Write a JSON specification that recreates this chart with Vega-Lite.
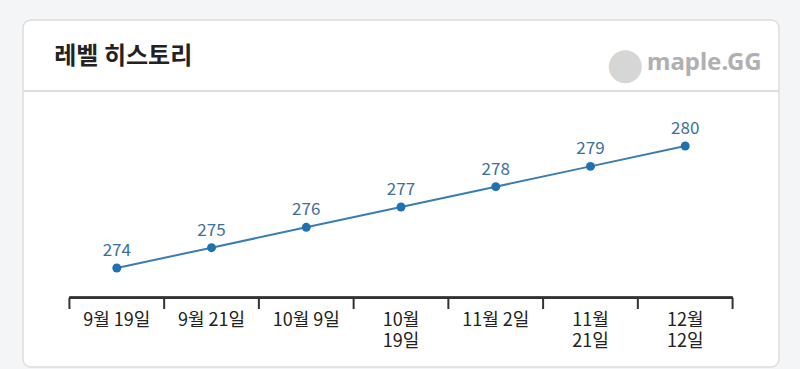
{
  "$schema": "https://vega.github.io/schema/vega-lite/v6.json",
  "width": 756,
  "height": 347,
  "autosize": "none",
  "padding": {"left": 23, "top": 20, "right": 21, "bottom": 2},
  "background": "#f4f5f7",
  "config": {
    "font": "Noto Sans CJK KR",
    "view": {"fill": "white", "stroke": "#dddddd", "strokeWidth": 1.5, "cornerRadius": 8}
  },
  "datasets": {
    "levels": [
      {"day": "9월 19일", "label": "9월 19일", "level": 274},
      {"day": "9월 21일", "label": "9월 21일", "level": 275},
      {"day": "10월 9일", "label": "10월 9일", "level": 276},
      {"day": "10월 19일", "label": "10월\n19일", "level": 277},
      {"day": "11월 2일", "label": "11월 2일", "level": 278},
      {"day": "11월 21일", "label": "11월\n21일", "level": 279},
      {"day": "12월 12일", "label": "12월\n12일", "level": 280}
    ],
    "header": [
      {"title": "레벨 히스토리", "logo": "maple.GG", "icon": "●"}
    ]
  },
  "data": {"name": "levels"},
  "layer": [
    {
      "mark": {"type": "line", "color": "#3a7db0", "strokeWidth": 2},
      "encoding": {
        "x": {
          "field": "day",
          "type": "nominal",
          "sort": ["9월 19일", "9월 21일", "10월 9일", "10월 19일", "11월 2일", "11월 21일", "12월 12일"],
          "scale": {"type": "point", "padding": 0.99},
          "axis": null
        },
        "y": {"field": "level", "type": "quantitative", "scale": {"domain": [269.13, 286.2], "zero": false, "nice": false}, "axis": null}
      }
    },
    {
      "mark": {"type": "rule", "color": "#dddddd", "strokeWidth": 1.5},
      "encoding": {"y": {"datum": 282.71}}
    },
    {
      "mark": {"type": "rule", "color": "#333333", "strokeWidth": 2, "xOffset": -47.37, "x2Offset": 47.37},
      "encoding": {
        "x": {"datum": "9월 19일"},
        "x2": {"datum": "12월 12일"},
        "y": {"datum": 272.539}
      }
    },
    {
      "mark": {"type": "rule", "color": "#333333", "strokeWidth": 2, "xOffset": -47.37},
      "encoding": {
        "x": {"field": "day", "type": "nominal", "sort": ["9월 19일", "9월 21일", "10월 9일", "10월 19일", "11월 2일", "11월 21일", "12월 12일"]},
        "y": {"datum": 272.539},
        "y2": {"datum": 271.983}
      }
    },
    {
      "transform": [{"filter": {"field": "day", "equal": "12월 12일"}}],
      "mark": {"type": "rule", "color": "#333333", "strokeWidth": 2, "xOffset": 47.37},
      "encoding": {
        "x": {"field": "day", "type": "nominal", "sort": ["9월 19일", "9월 21일", "10월 9일", "10월 19일", "11월 2일", "11월 21일", "12월 12일"]},
        "y": {"datum": 272.539},
        "y2": {"datum": 271.983}
      }
    },
    {
      "mark": {"type": "text", "baseline": "top", "align": "center", "fontSize": 18, "color": "#222222", "lineBreak": "\n", "lineHeight": 21},
      "encoding": {
        "x": {"field": "day", "type": "nominal", "sort": ["9월 19일", "9월 21일", "10월 9일", "10월 19일", "11월 2일", "11월 21일", "12월 12일"]},
        "y": {"datum": 271.86},
        "text": {"field": "label", "type": "nominal"}
      }
    },
    {
      "mark": {"type": "point", "filled": true, "color": "#1f72b0", "size": 80, "opacity": 1},
      "encoding": {
        "x": {"field": "day", "type": "nominal", "sort": ["9월 19일", "9월 21일", "10월 9일", "10월 19일", "11월 2일", "11월 21일", "12월 12일"]},
        "y": {"field": "level", "type": "quantitative"}
      }
    },
    {
      "mark": {"type": "text", "dy": -17, "fontSize": 17, "color": "#3d7098"},
      "encoding": {
        "x": {"field": "day", "type": "nominal", "sort": ["9월 19일", "9월 21일", "10월 9일", "10월 19일", "11월 2일", "11월 21일", "12월 12일"]},
        "y": {"field": "level", "type": "quantitative"},
        "text": {"field": "level", "type": "quantitative"}
      }
    },
    {
      "data": {"name": "header"},
      "mark": {"type": "text", "align": "left", "baseline": "alphabetic", "dx": -62.5, "fontSize": 24, "fontWeight": "bold", "color": "#222222"},
      "encoding": {
        "x": {"datum": "9월 19일"},
        "y": {"datum": 284.06},
        "text": {"field": "title", "type": "nominal"}
      }
    },
    {
      "data": {"name": "header"},
      "mark": {"type": "text", "align": "right", "baseline": "middle", "dx": 76.5, "fontSize": 24, "fontWeight": "bold", "font": "Noto Sans", "color": "#b0b0b0"},
      "encoding": {
        "x": {"datum": "12월 12일"},
        "y": {"datum": 284.08},
        "text": {"field": "logo", "type": "nominal"}
      }
    },
    {
      "data": {"name": "header"},
      "mark": {"type": "text", "align": "center", "baseline": "middle", "dx": -60, "dy": 2, "fontSize": 43, "font": "DejaVu Sans", "color": "#d6d6d6"},
      "encoding": {
        "x": {"datum": "12월 12일"},
        "y": {"datum": 284.08},
        "text": {"field": "icon", "type": "nominal"}
      }
    }
  ]
}
